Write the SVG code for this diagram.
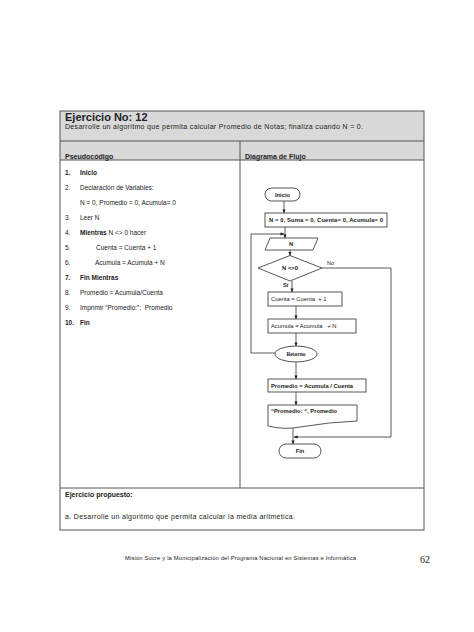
<svg xmlns="http://www.w3.org/2000/svg" width="474" height="632" viewBox="0 0 474 632">
<style>
text{font-family:"Liberation Sans",Arial,sans-serif;fill:#222}
.b{font-weight:bold}
.t{font-size:6.5px}
.f{font-size:5.8px}
.shape{fill:#fff;stroke:#444;stroke-width:0.9}
.tbl{fill:none;stroke:#555;stroke-width:1}
.con{fill:none;stroke:#333;stroke-width:0.8}
</style>
<defs>
<marker id="ah" viewBox="0 0 10 10" refX="9" refY="5" markerWidth="5" markerHeight="5" orient="auto">
<path d="M0,1 L10,5 L0,9 Z" fill="#222"/>
</marker>
</defs>
<rect width="474" height="632" fill="#fff"/>
<g id="table">
<rect x="60" y="111" width="364" height="49" fill="#d9d9d9"/>
<rect x="60" y="111" width="364" height="419" class="tbl"/>
<line x1="60" y1="141" x2="424" y2="141" class="tbl"/>
<line x1="60" y1="160" x2="424" y2="160" class="tbl"/>
<line x1="60" y1="488" x2="424" y2="488" class="tbl"/>
<line x1="240" y1="141" x2="240" y2="488" class="tbl"/>
<text x="65" y="121" class="b" font-size="11">Ejercicio No: 12</text>
<text x="65" y="128.5" font-size="7" textLength="298">Desarrolle un algoritmo que permita calcular Promedio de Notas; finaliza cuando N = 0.</text>
<text x="65" y="158.5" class="b" font-size="7">Pseudocódigo</text>
<text x="245" y="158.5" class="b" font-size="7">Diagrama de Flujo</text>
<text x="65" y="496.5" class="b" font-size="7">Ejercicio propuesto:</text>
<text x="65" y="518.5" font-size="7" textLength="230">a. Desarrolle un algoritmo que permita calcular la media aritmética.</text>
</g>
<g id="pseudocode" class="t">
<text x="65" y="175.3" class="b">1.</text><text x="80" y="175.3" class="b">Inicio</text>
<text x="65" y="190.3">2.</text><text x="80" y="190.3">Declaración de Variables:</text>
<text x="80" y="205.3">N = 0, Promedio = 0, Acumula= 0</text>
<text x="65" y="220.3">3.</text><text x="80" y="220.3">Leer N</text>
<text x="65" y="235.3">4.</text><text x="80" y="235.3"><tspan class="b">Mientras</tspan> N &lt;&gt; 0  hacer</text>
<text x="65" y="250.3">5.</text><text x="96" y="250.3">Cuenta = Cuenta + 1</text>
<text x="65" y="265.3">6.</text><text x="95" y="265.3">Acumula = Acumula + N</text>
<text x="65" y="280.3" class="b">7.</text><text x="80" y="280.3" class="b">Fin Mientras</text>
<text x="65" y="295.3">8.</text><text x="80" y="295.3">Promedio = Acumula/Cuenta</text>
<text x="65" y="310.3">9.</text><text x="80" y="310.3" xml:space="preserve">Imprimir “Promedio:”;  Promedio</text>
<text x="65" y="325.3" class="b">10.</text><text x="80" y="325.3" class="b">Fin</text>
</g>
<g id="connectors">
<line x1="284" y1="201" x2="284" y2="213" class="con" marker-end="url(#ah)"/>
<line x1="285" y1="227" x2="285" y2="238" class="con" marker-end="url(#ah)"/>
<polyline points="275,353 251,353 251,234 284,234" class="con" marker-end="url(#ah)"/>
<line x1="290" y1="250" x2="290" y2="255.5" class="con" marker-end="url(#ah)"/>
<line x1="292" y1="281" x2="292" y2="292" class="con" marker-end="url(#ah)"/>
<line x1="296" y1="306" x2="296" y2="319" class="con" marker-end="url(#ah)"/>
<line x1="296" y1="333" x2="296" y2="346" class="con" marker-end="url(#ah)"/>
<line x1="296" y1="362" x2="296" y2="379" class="con" marker-end="url(#ah)"/>
<line x1="296" y1="392" x2="296" y2="405" class="con" marker-end="url(#ah)"/>
<line x1="293" y1="428" x2="293" y2="444" class="con" marker-end="url(#ah)"/>
<polyline points="322,268 391,268 391,437 294,437" class="con" marker-end="url(#ah)"/>
<text x="327" y="265" font-size="5.5">No</text>
<text x="283" y="287" class="b" font-size="5.8">Sí</text>
</g>
<g id="inicio">
<rect x="265" y="188" width="35" height="13" rx="6.5" class="shape"/>
<text x="282.5" y="196.5" class="b f" text-anchor="middle">Inicio</text>
</g>
<g id="init">
<rect x="265" y="213" width="122" height="14" class="shape"/>
<text x="269" y="222" class="b f" textLength="114">N = 0, Suma = 0, Cuenta= 0, Acumula= 0</text>
</g>
<g id="leer">
<polygon points="270,238 318,238 313,250 265,250" class="shape"/>
<text x="291" y="246" class="b f" text-anchor="middle">N</text>
</g>
<g id="decision">
<polygon points="258,268 290,255.5 322,268 290,281" class="shape"/>
<text x="290" y="270" class="b f" text-anchor="middle">N &lt;&gt;0</text>
</g>
<g id="cuenta">
<rect x="268" y="292" width="74" height="14" class="shape"/>
<text x="271" y="301" class="f" xml:space="preserve">Cuenta = Cuenta  + 1</text>
</g>
<g id="acumula">
<rect x="268" y="319" width="88" height="14" class="shape"/>
<text x="271" y="328" class="f" xml:space="preserve">Acumula = Acumula   + N</text>
</g>
<g id="retorno">
<ellipse cx="296" cy="354" rx="21" ry="8" class="shape"/>
<text x="296" y="356" font-weight="bold" font-size="5.5" text-anchor="middle" style="font-family:'Liberation Serif',serif">Retorno</text>
</g>
<g id="promedio">
<rect x="268" y="379" width="98" height="13" class="shape"/>
<text x="271" y="387.5" class="b f">Promedio = Acumula / Cuenta</text>
</g>
<g id="imprimir">
<path d="M268,405 H357 V421 Q330,422 300,427 Q284,430 268,426 Z" class="shape"/>
<text x="271" y="413" class="b f">“Promedio: “, Promedio</text>
</g>
<g id="fin">
<rect x="279" y="444" width="42" height="14" rx="7" class="shape"/>
<text x="300" y="453" class="b f" text-anchor="middle">Fin</text>
</g>
<g id="footer">
<text x="125" y="560" font-size="5.8" textLength="231">Misión Sucre y la Municipalización del Programa  Nacional en Sistemas e Informática</text>
<text x="420" y="562.5" font-size="10" style="font-family:'Liberation Serif',serif">62</text>
</g>
</svg>
